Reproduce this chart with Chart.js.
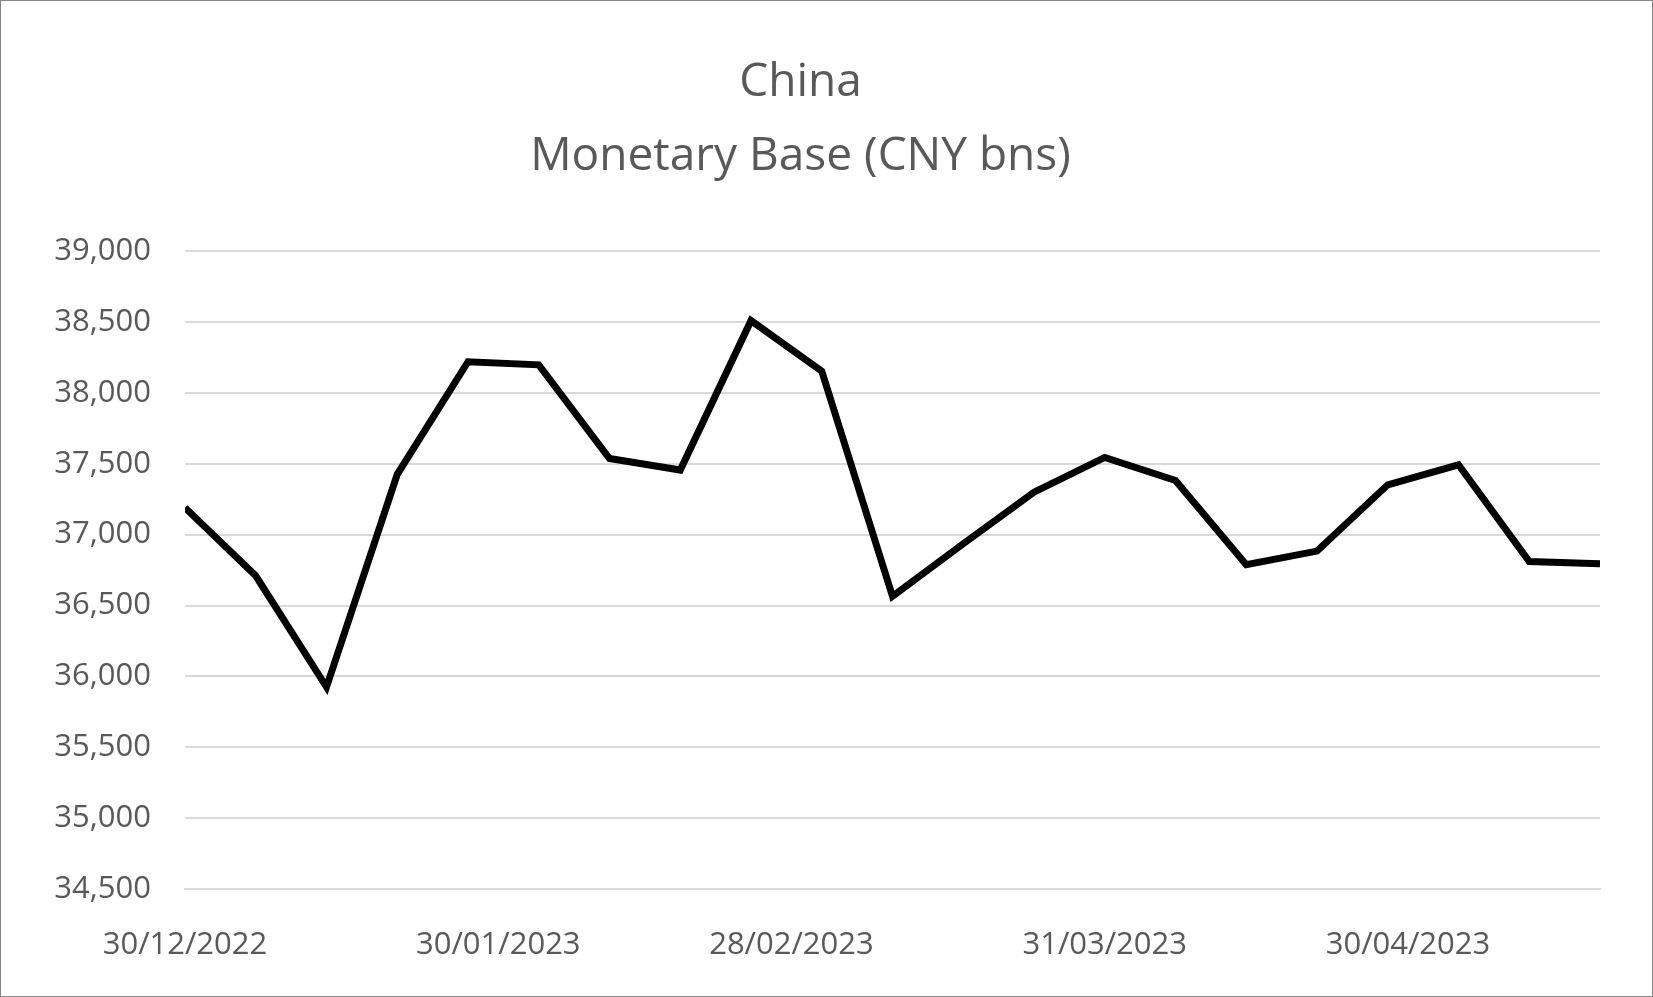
<!DOCTYPE html>
<html><head><meta charset="utf-8">
<script src="https://cdn.jsdelivr.net/npm/chart.js@4"></script>
<style>
html,body{margin:0;padding:0;background:#fff;}
#wrap{position:absolute;left:0;top:0;width:1651px;height:995px;border:1px solid #888;}
canvas{display:block;}
</style></head><body>
<div id="wrap"><canvas id="c" width="1651" height="995"></canvas></div>
<script>
const dayOffsets=[0,7,14,21,28,35,42,49,56,63,70,77,84,91,98,105,112,119,126,133,140];
const values=[37190,36710,35925,37426,38220,38198,37537,37456,38510,38154,36565,36936,37300,37545,37382,36788,36884,37352,37493,36810,36795];
const tickDays=[0,31,60,91,121];
const tickLabels=['30/12/2022','30/01/2023','28/02/2023','31/03/2023','30/04/2023'];
const gray='#595959';
new Chart(document.getElementById('c'),{
 type:'line',
 data:{datasets:[{data:dayOffsets.map((d,i)=>({x:d,y:values[i]})),borderColor:'#000',borderWidth:7,pointRadius:0,tension:0,borderJoinStyle:'miter'}]},
 options:{responsive:false,animation:false,
  layout:{padding:{top:15,right:52,bottom:10,left:0}},
  plugins:{legend:{display:false},tooltip:{enabled:false},
   title:{display:true,text:['China','Monetary Base (CNY bns)'],color:gray,font:{family:'Open Sans',size:46,weight:'normal',lineHeight:1.6},padding:{top:30,bottom:58}}},
  scales:{
   x:{type:'linear',min:0,max:140,
    afterBuildTicks:s=>{s.ticks=tickDays.map(v=>({value:v}));},
    afterFit:s=>{s.height=97;},
    ticks:{autoSkip:false,maxRotation:0,color:gray,font:{family:'Open Sans',size:31},padding:30,callback:v=>tickLabels[tickDays.indexOf(v)]},
    grid:{display:false},border:{color:'#d9d9d9',width:2}},
   y:{min:34500,max:39000,
    afterFit:s=>{s.width=184;},
    ticks:{stepSize:500,color:gray,font:{family:'Open Sans',size:31},padding:34,callback:v=>v.toLocaleString('en-US')},
    grid:{color:'#d9d9d9',lineWidth:2,drawTicks:false},border:{display:false}}
  }}
});
</script></body></html>
